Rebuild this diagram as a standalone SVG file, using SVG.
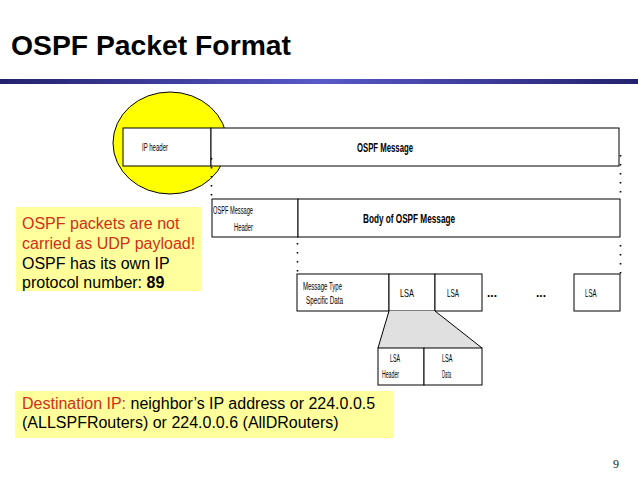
<svg xmlns="http://www.w3.org/2000/svg" width="638" height="479" viewBox="0 0 638 479">
<style>
.box{fill:#ffffff;stroke:#000000;stroke-width:1}
.lbl{font-family:"Liberation Sans Narrow","Liberation Sans",Arial,sans-serif;fill:#000000}
.note{font-family:"Liberation Sans",Arial,sans-serif;font-size:16px;fill:#000000}
.red{fill:#cf3018}
.dots{stroke:#000000;stroke-width:1.6;stroke-dasharray:1.4 7.6;fill:none}
</style>
<defs>
<linearGradient id="bar" x1="0" y1="0" x2="1" y2="0">
<stop offset="0" stop-color="#22226e"/>
<stop offset="0.5" stop-color="#5858c8"/>
<stop offset="1" stop-color="#22226e"/>
</linearGradient>
</defs>
<rect width="638" height="479" fill="#ffffff"/>
<g id="title">
<text x="11" y="55" font-family="Liberation Sans,Arial,sans-serif" font-weight="bold" font-size="28" textLength="280" lengthAdjust="spacingAndGlyphs">OSPF Packet Format</text>
<rect x="0" y="79" width="638" height="5" fill="url(#bar)"/>
</g>
<g id="highlight-circle">
<ellipse cx="170" cy="143" rx="57" ry="51" fill="#ffff00" stroke="#000000" stroke-width="1"/>
</g>
<g id="ip-header">
<rect class="box" x="123" y="128" width="88" height="38"/>
<text class="lbl" x="142" y="151" font-size="11" textLength="26" lengthAdjust="spacingAndGlyphs">IP header</text>
</g>
<g id="ospf-message">
<rect class="box" x="211" y="128" width="408" height="38"/>
<text class="lbl" x="357" y="152" font-size="12" font-weight="bold" textLength="56" lengthAdjust="spacingAndGlyphs">OSPF Message</text>
</g>
<g id="ospf-message-header">
<rect class="box" x="212" y="199" width="86" height="38"/>
<text class="lbl" x="213" y="214" font-size="10" textLength="40" lengthAdjust="spacingAndGlyphs">OSPF Message</text>
<text class="lbl" x="234" y="230.5" font-size="10" textLength="19" lengthAdjust="spacingAndGlyphs">Header</text>
</g>
<g id="ospf-body">
<rect class="box" x="298" y="199" width="322" height="38"/>
<text class="lbl" x="363" y="222.5" font-size="13" font-weight="bold" textLength="92" lengthAdjust="spacingAndGlyphs">Body of OSPF Message</text>
</g>
<g id="msg-type-data">
<rect class="box" x="297" y="274" width="92" height="37"/>
<text class="lbl" x="303" y="289.5" font-size="10" textLength="39" lengthAdjust="spacingAndGlyphs">Message Type</text>
<text class="lbl" x="306" y="304" font-size="10" textLength="37" lengthAdjust="spacingAndGlyphs">Specific Data</text>
</g>
<g id="lsa-1">
<rect class="box" x="389" y="274" width="46" height="37"/>
<text class="lbl" x="400" y="296.5" font-size="10.5" textLength="14" lengthAdjust="spacingAndGlyphs">LSA</text>
</g>
<g id="lsa-2">
<rect class="box" x="435" y="274" width="47" height="37"/>
<text class="lbl" x="447" y="296.5" font-size="10.5" textLength="12" lengthAdjust="spacingAndGlyphs">LSA</text>
</g>
<g id="ellipsis">
<text class="lbl" x="487" y="296.5" font-size="12" font-weight="bold" textLength="10" lengthAdjust="spacingAndGlyphs">...</text>
<text class="lbl" x="536" y="296.5" font-size="12" font-weight="bold" textLength="10" lengthAdjust="spacingAndGlyphs">...</text>
</g>
<g id="lsa-n">
<rect class="box" x="574" y="274" width="46" height="37"/>
<text class="lbl" x="585" y="296.5" font-size="10.5" textLength="11.5" lengthAdjust="spacingAndGlyphs">LSA</text>
</g>
<g id="connectors">
<polygon points="389,311 435,311 482,348 378,348" fill="#e0e0e0" stroke="none"/>
<line x1="389" y1="311" x2="378" y2="348" stroke="#000000" stroke-width="1"/>
<line x1="435" y1="311" x2="482" y2="348" stroke="#000000" stroke-width="1"/>
<line class="dots" x1="211.5" y1="158" x2="211.5" y2="198"/>
<line class="dots" x1="620.5" y1="155" x2="620.5" y2="200"/>
<line class="dots" x1="297.5" y1="243" x2="297.5" y2="273"/>
<line class="dots" x1="620.5" y1="245" x2="620.5" y2="275"/>
</g>
<g id="lsa-header">
<rect class="box" x="378" y="348" width="46" height="37"/>
<text class="lbl" x="390" y="362" font-size="10" textLength="10" lengthAdjust="spacingAndGlyphs">LSA</text>
<text class="lbl" x="382" y="377.5" font-size="10" textLength="17" lengthAdjust="spacingAndGlyphs">Header</text>
</g>
<g id="lsa-data">
<rect class="box" x="424" y="348" width="58" height="37"/>
<text class="lbl" x="442" y="362" font-size="10" textLength="10.5" lengthAdjust="spacingAndGlyphs">LSA</text>
<text class="lbl" x="442" y="377.5" font-size="10" textLength="9" lengthAdjust="spacingAndGlyphs">Data</text>
</g>
<g id="note-protocol">
<rect x="16" y="207" width="185" height="84" fill="#ffff9c"/>
<text class="note red" x="22" y="229">OSPF packets are not</text>
<text class="note red" x="22" y="249">carried as UDP payload!</text>
<text class="note" x="22" y="269">OSPF has its own IP</text>
<text class="note" x="22" y="288">protocol number: <tspan font-weight="bold">89</tspan></text>
</g>
<g id="note-destination">
<rect x="15" y="391" width="378" height="47" fill="#ffff9c"/>
<text class="note" x="22" y="409"><tspan class="red">Destination IP:</tspan> neighbor’s IP address or 224.0.0.5</text>
<text class="note" x="22" y="428">(ALLSPFRouters) or 224.0.0.6 (AllDRouters)</text>
</g>
<g id="page-number">
<text x="613" y="468" font-family="Liberation Serif,Times New Roman,serif" font-size="12" fill="#222222">9</text>
</g>
</svg>
